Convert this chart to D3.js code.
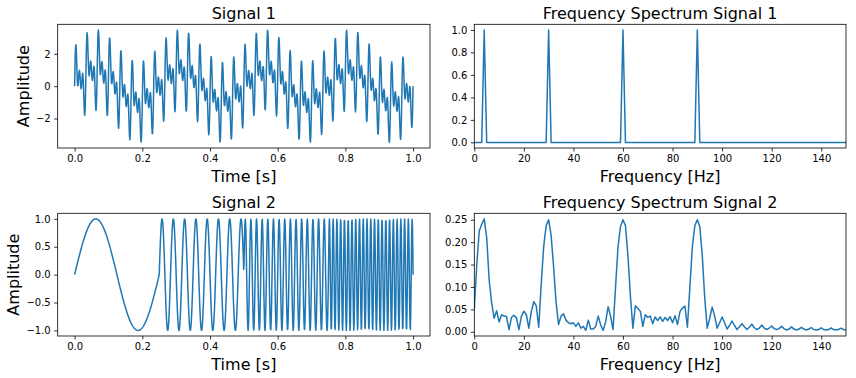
<!DOCTYPE html>
<html>
<head>
<meta charset="utf-8">
<script src="https://cdn.jsdelivr.net/npm/d3@7"></script>
<style>
  body { margin: 0; background: #fff; }
  svg { display: block; font-family: "DejaVu Sans", sans-serif; }
</style>
</head>
<body>
<svg id="fig" width="856" height="378"></svg>
<script>
// components of the two signals
const sig1Freqs = [4, 30, 60, 90];
const sig1Amps = [1, 1, 1, 1];
const sig2Freqs = [4, 30, 60, 90];
const sig2Bounds = [0, 0.25, 0.5, 0.75, 1];
const nSamples = 1000;

// spectrum of signal 1: single-bin peaks, zero elsewhere
const spec1Peaks = [4, 30, 60, 90];
const spec1Heights = [1, 1, 1, 1];
const spec1MaxHz = 150;

// spectrum of signal 2, one value per Hz (0..150)
const spec2Values = [
  0.05, 0.15, 0.225, 0.24, 0.252, 0.21, 0.115, 0.065, 0.03, 0.047,
  0.022, 0.038, 0.035, 0.034, 0.005, 0.032, 0.037, 0.031, 0.005, 0.034,
  0.046, 0.038, 0.008, 0.045, 0.067, 0.058, 0.01, 0.106, 0.19, 0.237,
  0.25, 0.215, 0.145, 0.066, 0.016, 0.035, 0.04, 0.026, 0.02, 0.018,
  0.02, 0.012, 0.02, 0.008, 0.012, 0.003, 0.026, 0.006, 0.006, 0.012,
  0.035, 0.015, 0.003, 0.022, 0.056, 0.035, 0.005, 0.1, 0.19, 0.235,
  0.25, 0.237, 0.17, 0.08, 0.008, 0.058, 0.052, 0.046, 0.012, 0.038,
  0.032, 0.035, 0.018, 0.033, 0.025, 0.033, 0.023, 0.032, 0.025, 0.034,
  0.02, 0.036, 0.016, 0.045, 0.053, 0.057, 0.01, 0.1, 0.19, 0.237,
  0.25, 0.235, 0.17, 0.075, 0.008, 0.03, 0.055, 0.035, 0.008, 0.02,
  0.033, 0.02, 0.006, 0.014, 0.024, 0.014, 0.005, 0.011, 0.018, 0.011,
  0.005, 0.01, 0.017, 0.009, 0.005, 0.008, 0.015, 0.008, 0.005, 0.008,
  0.013, 0.007, 0.005, 0.007, 0.012, 0.007, 0.004, 0.006, 0.011, 0.006,
  0.004, 0.006, 0.01, 0.006, 0.004, 0.006, 0.0095, 0.005, 0.004, 0.005,
  0.009, 0.005, 0.004, 0.005, 0.0085, 0.005, 0.004, 0.005, 0.008, 0.005,
  0.004
];

// tick labels
const timeTicks = [0, 0.2, 0.4, 0.6, 0.8, 1.0];
const freqTicks = [0, 20, 40, 60, 80, 100, 120, 140];
const sig1YTicks = [-2, 0, 2];
const sig2YTicks = [-1, -0.5, 0, 0.5, 1];
const spec1YTicks = [0, 0.2, 0.4, 0.6, 0.8, 1.0];
const spec2YTicks = [0, 0.05, 0.1, 0.15, 0.2, 0.25];

// build series
const times = d3.range(nSamples).map(i => i / (nSamples - 1));
const signal1 = times.map(t => [t, d3.sum(sig1Freqs, (f, j) => sig1Amps[j] * Math.sin(2 * Math.PI * f * t))]);
const signal2 = times.map(t => {
  let j = sig2Bounds.findIndex((b, k) => k > 0 && t < b) - 1;
  if (j < 0) j = sig2Freqs.length - 1;
  return [t, Math.sin(2 * Math.PI * sig2Freqs[j] * (t - sig2Bounds[j]))];
});
const spectrum1 = d3.range(spec1MaxHz + 1).map(k => {
  const i = spec1Peaks.indexOf(k);
  return [k, i >= 0 ? spec1Heights[i] : 0];
});
const spectrum2 = spec2Values.map((v, k) => [k, v]);

const svg = d3.select('#fig');
const blue = '#1f77b4';

// 5% padding like matplotlib autoscale
const pad = ([a, b]) => [a - (b - a) * 0.05, b + (b - a) * 0.05];

function panel({ box, data, xDomain, yDomain, xTicks, yTicks, xFmt, yFmt, title, xLabel, yLabel, yLabelX, id }) {
  const x = d3.scaleLinear().domain(xDomain).range([box.x0, box.x1]);
  const y = d3.scaleLinear().domain(yDomain).range([box.y1, box.y0]);

  svg.append('clipPath').attr('id', `clip${id}`)
    .append('rect')
    .attr('x', box.x0).attr('y', box.y0)
    .attr('width', box.x1 - box.x0).attr('height', box.y1 - box.y0);

  svg.append('path')
    .datum(data)
    .attr('clip-path', `url(#clip${id})`)
    .attr('fill', 'none')
    .attr('stroke', blue)
    .attr('stroke-width', 1.5)
    .attr('stroke-linejoin', 'round')
    .attr('d', d3.line().x(d => x(d[0])).y(d => y(d[1])));

  const gx = svg.append('g')
    .attr('transform', `translate(0,${box.y1})`)
    .call(d3.axisBottom(x).tickValues(xTicks).tickFormat(d3.format(xFmt)).tickSizeOuter(0).tickSize(3.5).tickPadding(3.5));
  const gy = svg.append('g')
    .attr('transform', `translate(${box.x0},0)`)
    .call(d3.axisLeft(y).tickValues(yTicks).tickFormat(d3.format(yFmt)).tickSizeOuter(0).tickSize(3.5).tickPadding(3.5));
  [gx, gy].forEach(g => {
    g.attr('font-family', '"DejaVu Sans", sans-serif').attr('font-size', 10);
    g.select('.domain').remove();
    g.selectAll('line').attr('stroke', '#000').attr('stroke-width', 0.8);
    g.selectAll('text').attr('fill', '#000');
  });

  svg.append('rect')
    .attr('x', box.x0).attr('y', box.y0)
    .attr('width', box.x1 - box.x0).attr('height', box.y1 - box.y0)
    .attr('fill', 'none').attr('stroke', '#000').attr('stroke-width', 0.8);

  svg.append('text')
    .attr('x', (box.x0 + box.x1) / 2).attr('y', box.y0 - 5.5)
    .attr('text-anchor', 'middle').attr('font-size', 16)
    .text(title);

  svg.append('text')
    .attr('x', (box.x0 + box.x1) / 2).attr('y', box.y1 + 33.7)
    .attr('text-anchor', 'middle').attr('font-size', 16)
    .text(xLabel);

  if (yLabel) {
    const cy = (box.y0 + box.y1) / 2;
    svg.append('text')
      .attr('transform', `translate(${yLabelX},${cy}) rotate(-90)`)
      .attr('text-anchor', 'middle').attr('font-size', 16)
      .text(yLabel);
  }
}

const colLeft = { x0: 57.7, x1: 430 };
const colRight = { x0: 474.3, x1: 846 };
const rowTop = { y0: 24.3, y1: 148 };
const rowBottom = { y0: 213.3, y1: 336 };

panel({
  id: 1, box: { ...colLeft, ...rowTop }, data: signal1,
  xDomain: pad([0, 1]), yDomain: pad(d3.extent(signal1, d => d[1])),
  xTicks: timeTicks, yTicks: sig1YTicks, xFmt: '.1f', yFmt: 'd',
  title: 'Signal 1', xLabel: 'Time [s]', yLabel: 'Amplitude', yLabelX: 28.5
});
panel({
  id: 2, box: { ...colRight, ...rowTop }, data: spectrum1,
  xDomain: [0, 150], yDomain: pad(d3.extent(spectrum1, d => d[1])),
  xTicks: freqTicks, yTicks: spec1YTicks, xFmt: 'd', yFmt: '.1f',
  title: 'Frequency Spectrum Signal 1', xLabel: 'Frequency [Hz]'
});
panel({
  id: 3, box: { ...colLeft, ...rowBottom }, data: signal2,
  xDomain: pad([0, 1]), yDomain: pad(d3.extent(signal2, d => d[1])),
  xTicks: timeTicks, yTicks: sig2YTicks, xFmt: '.1f', yFmt: '.1f',
  title: 'Signal 2', xLabel: 'Time [s]', yLabel: 'Amplitude', yLabelX: 18.5
});
panel({
  id: 4, box: { ...colRight, ...rowBottom }, data: spectrum2,
  xDomain: [0, 150], yDomain: pad(d3.extent(spectrum2, d => d[1])),
  xTicks: freqTicks, yTicks: spec2YTicks, xFmt: 'd', yFmt: '.2f',
  title: 'Frequency Spectrum Signal 2', xLabel: 'Frequency [Hz]'
});
</script>
</body>
</html>
